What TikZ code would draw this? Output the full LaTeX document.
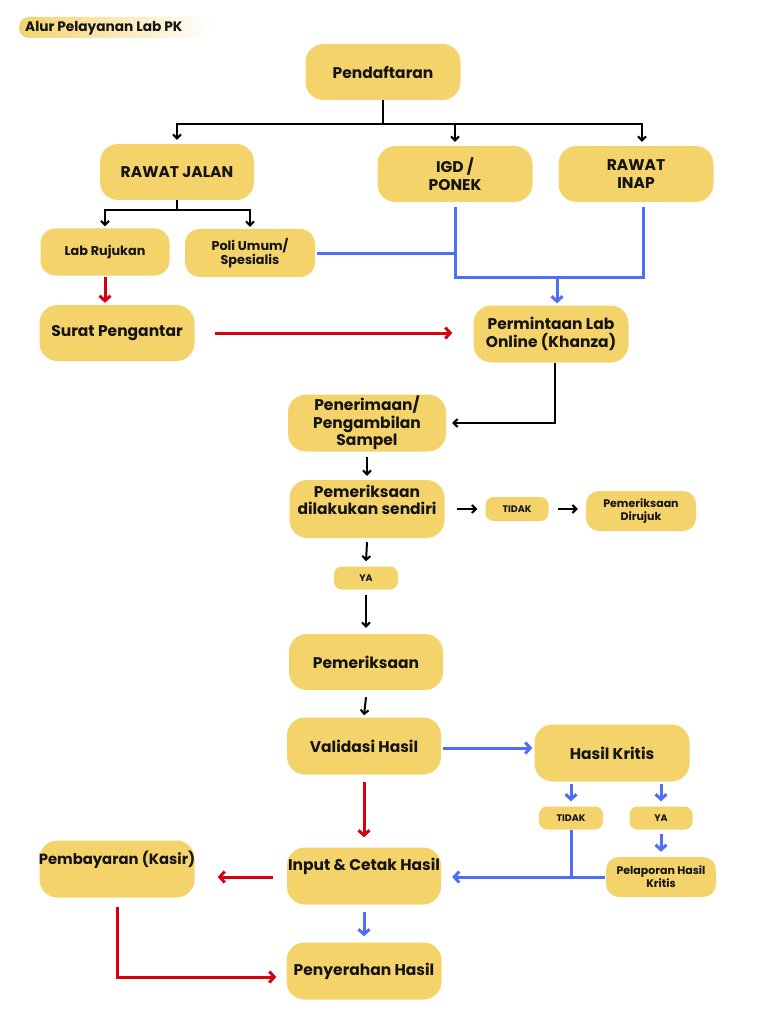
\documentclass[tikz,border=0pt]{standalone}
\usepackage{fontspec}
\setmainfont{Poppins}
\usetikzlibrary{arrows.meta,calc}
\definecolor{ylw}{HTML}{F4D36B}
\definecolor{blu}{HTML}{4F6EF6}
\definecolor{rd}{HTML}{D8020F}
\definecolor{ink}{HTML}{141414}
\begin{document}
\begin{tikzpicture}[x=1pt,y=-1pt,
  box/.style={fill=ylw, rounded corners=18pt, inner sep=0pt, align=center, text=ink,
    font=\bfseries\fontsize{15.5}{17.5}\selectfont},
  mbox/.style={fill=ylw, rounded corners=15pt, inner sep=0pt, align=center, text=ink,
    font=\bfseries\fontsize{12.8}{14.5}\selectfont},
  sbox/.style={fill=ylw, rounded corners=13pt, inner sep=0pt, align=center, text=ink,
    font=\bfseries\fontsize{11}{13}\selectfont},
  tbox/.style={fill=ylw, rounded corners=8pt, inner sep=0pt, align=center, text=ink,
    font=\bfseries\fontsize{9.5}{10}\selectfont},
  lbl/.style={inner sep=0pt, align=center, text=ink, font=\bfseries\fontsize{15.5}{17.5}\selectfont},
  bkl/.style={draw=black, line width=2pt},
  bkA/.style={bkl, -{Straight Barb[length=4pt,width=8pt]}},
  bll/.style={draw=blu, line width=3pt},
  blA/.style={bll, -{Straight Barb[length=5pt,width=11pt]}},
  rdA/.style={draw=rd, line width=3pt, -{Straight Barb[length=5pt,width=11pt]}},
]
\useasboundingbox (0,0) rectangle (768,1024);
\fill[white] (0,0) rectangle (768,1024);

% title
\shade[left color=ylw, middle color=ylw, right color=white, rounded corners=10pt] (19,17) rectangle (212,38);
\node[anchor=west, inner sep=0pt, text=ink, font=\bfseries\fontsize{13.7}{14}\selectfont] (title) at (25,28) {Alur Pelayanan Lab PK};

% nodes
\node[box, minimum width=155, minimum height=56] (pend) at (383,72) {Pendaftaran};
\node[box, minimum width=154, minimum height=56] (rj) at (177,172) {RAWAT JALAN};
\node[box, minimum width=155, minimum height=56] (igd) at (455,174) {IGD /\\PONEK};
\node[box, minimum width=155, minimum height=56] (ri) at (636,174) {RAWAT\\INAP};
\node[mbox, minimum width=129, minimum height=47] (lab) at (105,252) {Lab Rujukan};
\node[mbox, minimum width=130, minimum height=48] (poli) at (250,253) {Poli Umum/\\Spesialis};
\node[box, minimum width=155, minimum height=56] (surat) at (117,333) {Surat Pengantar};
\node[box, minimum width=155, minimum height=57] (perm) at (551,334) {Permintaan Lab\\Online (Khanza)};
\node[box, minimum width=158, minimum height=57] (pen) at (367,423) {Penerimaan/\\Pengambilan\\Sampel};
\node[box, minimum width=155, minimum height=58] (pds) at (367,509) {};
\node[lbl] (pdst) at (367,500) {Pemeriksaan\\dilakukan sendiri};
\node[tbox, minimum width=63, minimum height=24] (tid1) at (517,509) {TIDAK};
\node[sbox, minimum width=110, minimum height=40] (dir) at (641,511) {Pemeriksaan\\Dirujuk};
\node[tbox, minimum width=64, minimum height=23] (ya1) at (366,578) {YA};
\node[box, minimum width=154, minimum height=56] (pem) at (366,662) {Pemeriksaan};
\node[box, minimum width=154, minimum height=57] (val) at (364,746) {Validasi Hasil};
\node[box, minimum width=155, minimum height=57] (hk) at (612,753) {Hasil Kritis};
\node[tbox, minimum width=64, minimum height=23] (tid2) at (571,818) {TIDAK};
\node[tbox, minimum width=63, minimum height=23] (ya2) at (661,818) {YA};
\node[sbox, minimum width=110, minimum height=40] (pel) at (661,877) {Pelaporan Hasil\\Kritis};
\node[box, minimum width=154, minimum height=57] (inp) at (364,876) {};
\node[lbl] (inpt) at (364,866) {Input \& Cetak Hasil};
\node[box, minimum width=155, minimum height=57] (bay) at (117,869) {};
\node[lbl, font=\bfseries\fontsize{14.8}{17}\selectfont] (bayt) at (117,860) {Pembayaran (Kasir)};
\node[box, minimum width=155, minimum height=57] (pny) at (364,971) {Penyerahan Hasil};

% black connectors from Pendaftaran
\coordinate (j1) at ($(pend.south)+(0,24)$);
\draw[bkl] (pend.south) -- (j1);
\draw[bkA, shorten >=4pt] (j1) -| (rj.north);
\draw[bkA, shorten >=4pt] (j1) -| (igd.north);
\draw[bkA, shorten >=4pt] (j1) -| ($(ri.north)+(6,0)$);

% rawat jalan split
\coordinate (j2) at ($(rj.south)+(0,10)$);
\draw[bkl] (rj.south) -- (j2);
\draw[bkA, shorten >=2pt] (j2) -| (lab.north);
\draw[bkA, shorten >=2pt] (j2) -| (poli.north);

% blue merge to Permintaan
\coordinate (b1) at ($(igd.south)+(0,75)$);
\coordinate (b2) at ($(ri.south)+(7,75)$);
\coordinate (pn) at ($(perm.north)+(6,0)$);
\draw[bll] ($(igd.south)+(0,5)$) -- (b1) -- (b2) -- ($(ri.south)+(7,5)$);
\draw[bll] ($(poli.east)+(2,0)$) -- (poli.east -| igd.south);
\draw[blA, shorten >=2pt] (pn |- b1) -- (pn);

% red: rujukan path
\draw[rdA, shorten >=2pt] ($(lab.south)+(0,1)$) -- (lab.south |- surat.north);
\draw[rdA] ($(surat.east)+(20,0)$) -- ($(perm.west)+(-21,-1)$);

% black: Permintaan to Penerimaan
\draw[bkA] ($(perm.south)+(4,0)$) |- ($(pen.east)+(6,0)$);
\draw[bkA] ($(pen.south)+(0,5)$) -- ($(pds.north)+(0,-4)$);
\draw[bkA] ($(pds.east)+(12,0)$) -- ($(tid1.west)+(-8,0)$);
\draw[bkA] ($(tid1.east)+(9,0)$) -- ($(dir.west)+(-8,-2)$);
\draw[bkA] ($(pds.south)+(0,4)$) -- ($(ya1.north)+(0,-5)$);
\draw[bkA] ($(ya1.south)+(0,5)$) -- ($(pem.north)+(0,-6)$);
\draw[bkA] ($(pem.south)+(0,7)$) -- ($(val.north)+(0,-2)$);

% blue: hasil kritis branch
\coordinate (vh) at ($(val.east)+(2,2)$);
\draw[blA, shorten >=2pt] (vh) -- (vh -| hk.west);
\draw[blA] ($(hk.south -| tid2.north)+(0,2)$) -- ($(tid2.north)+(0,-5)$);
\draw[blA] ($(hk.south -| ya2.north)+(0,2)$) -- ($(ya2.north)+(0,-5)$);
\draw[blA] ($(ya2.south)+(0,4)$) -- ($(pel.north)+(0,-5)$);
\draw[bll] (tid2.south) -- (tid2.south |- pel.west);
\draw[blA] ($(pel.west)+(-1,0)$) -- ($(inp.east)+(11,1)$);

% red: validasi to input, input to pembayaran
\draw[rdA] ($(val.south)+(0,7)$) -- ($(inp.north)+(0,-10)$);
\draw[rdA] ($(inp.west)+(-14,1)$) -- ($(bay.east)+(23,8)$);

% blue: input to penyerahan
\draw[blA] ($(inp.south)+(0,7)$) -- ($(pny.north)+(0,-6)$);

% red: pembayaran to penyerahan
\draw[rdA] ($(bay.south)+(0,9)$) |- ($(pny.west)+(-10,6)$);
\end{tikzpicture}
\end{document}
